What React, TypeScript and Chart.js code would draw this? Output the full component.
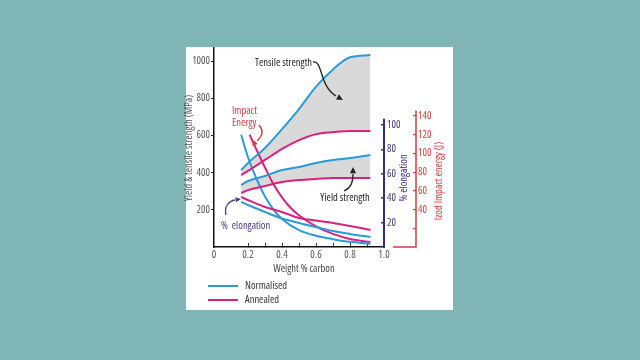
import React, { useEffect, useRef } from 'react';
import { Chart, registerables } from 'chart.js';

Chart.register(...registerables);

const FAMILY = "'Open Sans', 'DejaVu Sans Condensed', sans-serif";
const STRETCH = 'condensed';
const fontStr = (size: number) => `${STRETCH} ${size}px ${FAMILY}`;

const BLUE = '#2a9bd8';
const MAGENTA = '#d9227d';
const GREY_FILL = '#d9d9d9';
const PURPLE = '#3b2d7c';
const RED = '#d43c3c';

// Weight % carbon at which the curves were read
const CARBON = [0.16, 0.2, 0.3, 0.4, 0.5, 0.6, 0.7, 0.8, 0.92];
const TENSILE_NORMALISED = [414, 452, 532, 634, 742, 862, 955, 1020, 1032];
const TENSILE_ANNEALED = [387, 409, 468, 527, 575, 607, 618, 624, 624];
const YIELD_NORMALISED = [333, 355, 382, 414, 430, 452, 468, 478, 495];
const YIELD_ANNEALED = [290, 306, 328, 349, 360, 366, 371, 371, 371];
const ELONG_NORMALISED = [37, 34.4, 28.7, 23.4, 19.7, 16.4, 13.1, 10.7, 8.2];
const ELONG_ANNEALED = [41, 38.5, 32.8, 28.7, 23.8, 21.7, 19.7, 17.2, 14];
const IMPACT_N_CARBON = [0.16, 0.2, 0.25, 0.3, 0.35, 0.4, 0.5, 0.6, 0.7, 0.8, 0.92];
const IMPACT_NORMALISED = [120, 96, 73, 54, 40, 30, 18, 12, 8.4, 5.5, 3.5];
const IMPACT_A_CARBON = [0.21, 0.25, 0.3, 0.35, 0.4, 0.45, 0.5, 0.6, 0.7, 0.8, 0.92];
const IMPACT_ANNEALED = [120, 104, 85, 67, 53, 42, 34, 22, 14, 8.5, 5.3];

// Axis ticks
const X_TICKS = [0, 0.2, 0.3, 0.4, 0.5, 0.6, 0.7, 0.8, 0.9, 1.0];
const X_LABELS = ['0', '0.2', '', '0.4', '', '0.6', '', '0.8', '', '1.0'];
const STRENGTH_TICKS = [200, 400, 600, 800, 1000];
const ELONG_TICKS = [20, 40, 60, 80, 100];
const IMPACT_TICKS = [20, 40, 60, 80, 100, 120, 140];
const IMPACT_LABELLED_FROM = 40;

const LEGEND = [
  { label: 'Normalised', color: BLUE },
  { label: 'Annealed', color: MAGENTA },
];

function line(label: string, xs: number[], ys: number[], color: string, axis: string, extra: any = {}) {
  return {
    label,
    data: xs.map((x, i) => ({ x, y: ys[i] })),
    borderColor: color,
    borderWidth: 2,
    pointRadius: 0,
    yAxisID: axis,
    cubicInterpolationMode: 'monotone',
    fill: false,
    ...extra,
  };
}

function arrowHead(ctx: CanvasRenderingContext2D, tx: number, ty: number, fx: number, fy: number, size: number) {
  const a = Math.atan2(ty - fy, tx - fx);
  ctx.beginPath();
  ctx.moveTo(tx, ty);
  ctx.lineTo(tx - size * Math.cos(a - 0.45), ty - size * Math.sin(a - 0.45));
  ctx.lineTo(tx - size * Math.cos(a + 0.45), ty - size * Math.sin(a + 0.45));
  ctx.closePath();
  ctx.fill();
}

const decorations = {
  id: 'decorations',
  afterDraw(chart: any) {
    const ctx: CanvasRenderingContext2D = chart.ctx;
    const { yE, yI, x } = chart.scales;
    const bottom = chart.chartArea.bottom;
    ctx.save();

    // partial right axes
    ctx.lineWidth = 2;
    ctx.strokeStyle = PURPLE;
    ctx.beginPath();
    ctx.moveTo(yE.left, yE.getPixelForValue(0) + 1);
    ctx.lineTo(yE.left, yE.getPixelForValue(105));
    ctx.stroke();
    ctx.strokeStyle = RED;
    ctx.lineWidth = 1.5;
    ctx.beginPath();
    ctx.moveTo(yI.left - 23, bottom);
    ctx.lineTo(yI.left, bottom);
    ctx.lineTo(yI.left, yI.getPixelForValue(146));
    ctx.stroke();

    // axis titles
    const rot = (text: string, cx: number, cy: number, color: string, size: number) => {
      ctx.save();
      ctx.translate(cx, cy);
      ctx.rotate(-Math.PI / 2);
      ctx.fillStyle = color;
      ctx.font = fontStr(size);
      ctx.textAlign = 'center';
      ctx.textBaseline = 'middle';
      ctx.fillText(text, 0, 0);
      ctx.restore();
    };
    rot('Yield & tensile strength (MPa)', x.left - 25, 148, '#555', 10.5);
    rot('% elongation', yE.left + 20, 178, PURPLE, 10.5);
    rot('Izod Impact energy (J)', yI.left + 23, 181, RED, 10.5);

    ctx.font = fontStr(10.5);
    ctx.textBaseline = 'middle';
    ctx.textAlign = 'center';
    ctx.fillStyle = '#444';
    ctx.fillText('Weight % carbon', (x.left + x.right) / 2 + 5, 269);

    // legend
    ctx.textAlign = 'left';
    LEGEND.forEach((item, i) => {
      const yy = 286 + i * 14;
      ctx.strokeStyle = item.color;
      ctx.lineWidth = 2;
      ctx.beginPath();
      ctx.moveTo(208, yy);
      ctx.lineTo(238, yy);
      ctx.stroke();
      ctx.fillStyle = '#333';
      ctx.fillText(item.label, 245, yy);
    });

    // annotations
    ctx.lineWidth = 1.3;
    ctx.fillStyle = '#222';
    ctx.strokeStyle = '#222';
    ctx.fillText('Tensile strength', 255, 63);
    ctx.beginPath();
    ctx.moveTo(313, 62);
    ctx.bezierCurveTo(323, 60, 319, 86, 336, 96);
    ctx.stroke();
    arrowHead(ctx, 343, 100, 334, 95, 7);

    ctx.fillStyle = RED;
    ctx.strokeStyle = RED;
    ctx.fillText('Impact', 232, 111);
    ctx.fillText('Energy', 232, 123);
    ctx.beginPath();
    ctx.moveTo(259, 125);
    ctx.quadraticCurveTo(266, 133, 257, 141);
    ctx.stroke();
    arrowHead(ctx, 252, 146, 259, 139, 6);

    ctx.fillStyle = '#222';
    ctx.strokeStyle = '#222';
    ctx.textAlign = 'center';
    ctx.fillText('Yield strength', 345, 198);
    ctx.beginPath();
    ctx.moveTo(344, 191);
    ctx.bezierCurveTo(352, 187, 353, 181, 353, 174);
    ctx.stroke();
    arrowHead(ctx, 353, 167, 353, 175, 7);

    ctx.textAlign = 'left';
    ctx.fillStyle = '#4a3a8a';
    ctx.strokeStyle = '#4a3a8a';
    ctx.fillText('%  elongation', 221, 226);
    ctx.beginPath();
    ctx.moveTo(226, 215);
    ctx.bezierCurveTo(224, 206, 229, 201, 235, 200);
    ctx.stroke();
    arrowHead(ctx, 241, 199, 234, 200, 6);

    ctx.restore();
  },
};

export default function App() {
  const ref = useRef<HTMLCanvasElement>(null);

  useEffect(() => {
    if (!ref.current) return;
    Chart.defaults.font.family = FAMILY;
    const tickFont = { size: 10.5, weight: STRETCH };
    const chart = new Chart(ref.current, {
      type: 'line',
      data: {
        datasets: [
          line('Tensile strength (annealed)', CARBON, TENSILE_ANNEALED, MAGENTA, 'y'),
          line('Tensile strength (normalised)', CARBON, TENSILE_NORMALISED, BLUE, 'y', { fill: 0, backgroundColor: GREY_FILL }),
          line('Yield strength (annealed)', CARBON, YIELD_ANNEALED, MAGENTA, 'y'),
          line('Yield strength (normalised)', CARBON, YIELD_NORMALISED, BLUE, 'y', { fill: 2, backgroundColor: GREY_FILL }),
          line('% elongation (normalised)', CARBON, ELONG_NORMALISED, BLUE, 'yE'),
          line('% elongation (annealed)', CARBON, ELONG_ANNEALED, MAGENTA, 'yE'),
          line('Impact energy (normalised)', IMPACT_N_CARBON, IMPACT_NORMALISED, BLUE, 'yI'),
          line('Impact energy (annealed)', IMPACT_A_CARBON, IMPACT_ANNEALED, MAGENTA, 'yI'),
        ] as any,
      },
      options: {
        animation: false,
        responsive: false,
        layout: { padding: { left: 186, right: 194, top: 48, bottom: 93 } },
        plugins: {
          legend: { display: false },
          tooltip: { enabled: false },
          filler: { drawTime: 'beforeDatasetsDraw' } as any,
        },
        scales: {
          x: {
            type: 'linear',
            position: 'bottom',
            min: 0,
            max: 1.0,
            afterBuildTicks: (axis: any) => {
              axis.ticks = X_TICKS.map((v) => ({ value: v }));
            },
            afterFit: (axis: any) => {
              axis.height = 20;
            },
            ticks: {
              autoSkip: false,
              maxRotation: 0,
              padding: 6,
              color: '#555',
              font: tickFont,
              callback: (_v: any, i: number) => X_LABELS[i],
            },
            grid: {
              drawOnChartArea: false,
              drawTicks: true,
              tickLength: -4,
              tickColor: (c: any) => (c.tick && (c.tick.value === 0 || c.tick.value === 1) ? 'rgba(0,0,0,0)' : '#333'),
            },
            border: { display: true, color: '#111', width: 1.5 },
          },
          y: {
            type: 'linear',
            position: 'left',
            min: 0,
            max: 1070,
            afterBuildTicks: (axis: any) => {
              axis.ticks = STRENGTH_TICKS.map((v) => ({ value: v }));
            },
            afterFit: (axis: any) => {
              axis.width = 28;
            },
            ticks: { padding: 1, color: '#555', font: tickFont, callback: (v: any) => String(v) },
            grid: { drawOnChartArea: false, drawTicks: true, tickLength: 3, tickColor: '#222' },
            border: { display: true, color: '#111', width: 1.5 },
          },
          yE: {
            type: 'linear',
            position: 'right',
            weight: 0,
            min: 0,
            max: 163,
            afterBuildTicks: (axis: any) => {
              axis.ticks = ELONG_TICKS.map((v) => ({ value: v }));
            },
            afterFit: (axis: any) => {
              axis.width = 32;
            },
            ticks: { padding: 6, color: '#3b3b6b', font: tickFont, callback: (v: any) => String(v) },
            grid: { drawOnChartArea: false, drawTicks: true, tickLength: -3, tickColor: PURPLE, lineWidth: 1.5 },
            border: { display: false },
          },
          yI: {
            type: 'linear',
            position: 'right',
            weight: 1,
            min: 0,
            max: 212.8,
            afterBuildTicks: (axis: any) => {
              axis.ticks = IMPACT_TICKS.map((v) => ({ value: v }));
            },
            afterFit: (axis: any) => {
              axis.width = 30;
            },
            ticks: {
              padding: 5,
              color: RED,
              font: tickFont,
              callback: (v: any) => (v >= IMPACT_LABELLED_FROM ? String(v) : ''),
            },
            grid: { drawOnChartArea: false, drawTicks: true, tickLength: -3, tickColor: RED, lineWidth: 1.2 },
            border: { display: false },
          },
        },
      } as any,
      plugins: [decorations],
    });
    return () => chart.destroy();
  }, []);

  return (
    <div style={{ position: 'fixed', left: 0, top: 0, width: 640, height: 360, background: '#80b5b5', overflow: 'hidden' }}>
      <div style={{ position: 'absolute', left: 186, top: 47, width: 267, height: 263, background: '#ffffff' }} />
      <canvas ref={ref} width={640} height={360} style={{ position: 'absolute', left: 0, top: 0 }} />
    </div>
  );
}
